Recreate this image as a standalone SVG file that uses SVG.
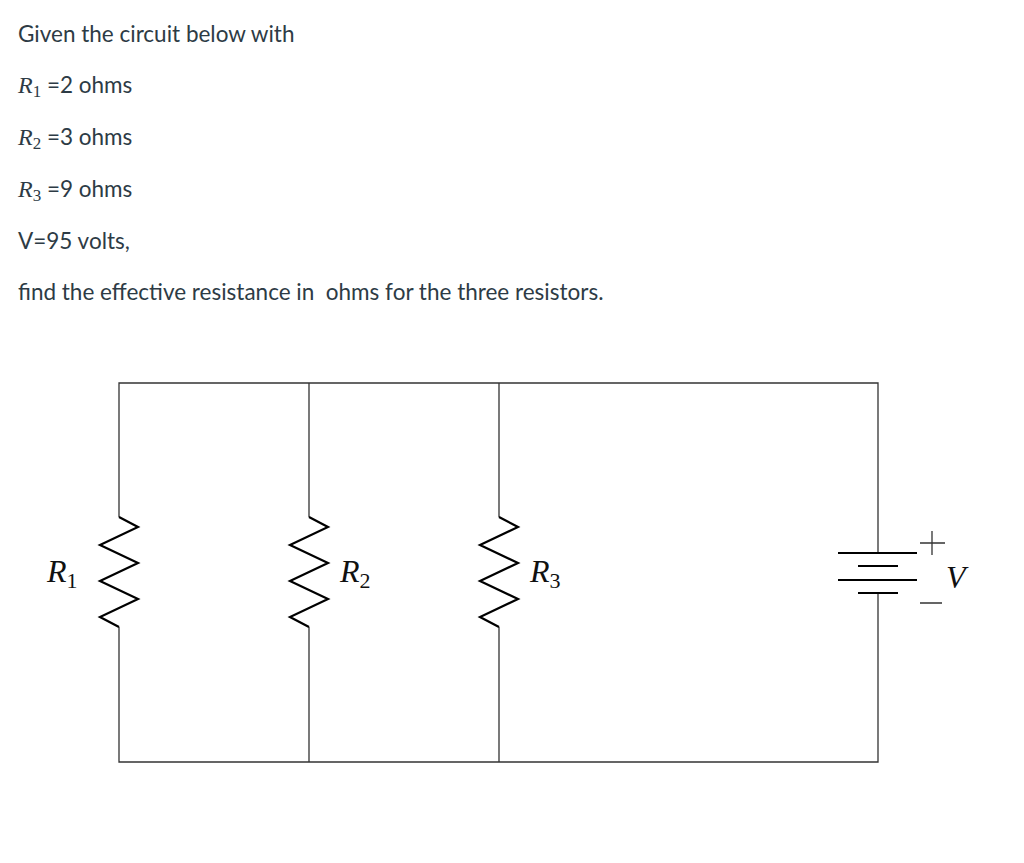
<svg xmlns="http://www.w3.org/2000/svg" width="1024" height="863" viewBox="0 0 1024 863">
<style>
.t{font-family:Lato,"Liberation Sans",sans-serif;font-size:22.5px;fill:#2d3b45}
.m{font-family:"Liberation Serif",serif;font-style:italic;fill:#2d3b45}
.s{font-family:"Liberation Serif",serif;fill:#2d3b45}
.c{font-family:"Liberation Serif",serif;fill:#111}
.w{stroke:#333;stroke-width:1.3;fill:none}
.z{stroke:#000;stroke-width:2.2;fill:none;stroke-linejoin:miter}
</style>
<rect width="1024" height="863" fill="#fff"/>
<g id="text">
<text class="t" x="18" y="42">Given the circuit below with</text>
<text x="18" y="93"><tspan class="m" font-size="24">R</tspan><tspan class="s" font-size="17" dy="4">1</tspan><tspan class="t" dy="-4">&#160;=2 ohms</tspan></text>
<text x="18" y="145"><tspan class="m" font-size="24">R</tspan><tspan class="s" font-size="17" dy="4">2</tspan><tspan class="t" dy="-4">&#160;=3 ohms</tspan></text>
<text x="18" y="197"><tspan class="m" font-size="24">R</tspan><tspan class="s" font-size="17" dy="4">3</tspan><tspan class="t" dy="-4">&#160;=9 ohms</tspan></text>
<text class="t" x="18" y="249">V=95 volts,</text>
<text class="t" x="18" y="300">find the effective resistance in&#160; ohms for the three resistors.</text>
</g>
<g id="connectors">
<path class="w" d="M119 517 V383 H878 V553 M309 383 V517 M499 383 V517 M119 627 V762 H878 V593 M309 627 V762 M499 627 V762"/>
</g>
<g id="R1">
<path class="z" d="M119 517 L138 527 L100 545 L138 563 L100 581 L138 599 L100 617 L119 627"/>
<text class="c" x="47" y="582" font-size="32" font-style="italic">R<tspan font-size="22" font-style="normal" dy="6">1</tspan></text>
</g>
<g id="R2">
<path class="z" d="M309 517 L328 527 L290 545 L328 563 L290 581 L328 599 L290 617 L309 627"/>
<text class="c" x="340" y="582" font-size="32" font-style="italic">R<tspan font-size="22" font-style="normal" dy="6">2</tspan></text>
</g>
<g id="R3">
<path class="z" d="M499 517 L518 527 L480 545 L518 563 L480 581 L518 599 L480 617 L499 627"/>
<text class="c" x="530" y="582" font-size="32" font-style="italic">R<tspan font-size="22" font-style="normal" dy="6">3</tspan></text>
</g>
<g id="V">
<path class="z" d="M838 553 H917 M858 566 H898 M838 580 H917 M858 593 H898"/>
<path class="w" d="M920 543 H945 M932 531 V555 M920 603 H942"/>
<text class="c" x="946" y="588" font-size="32" font-style="italic">V</text>
</g>
</svg>
